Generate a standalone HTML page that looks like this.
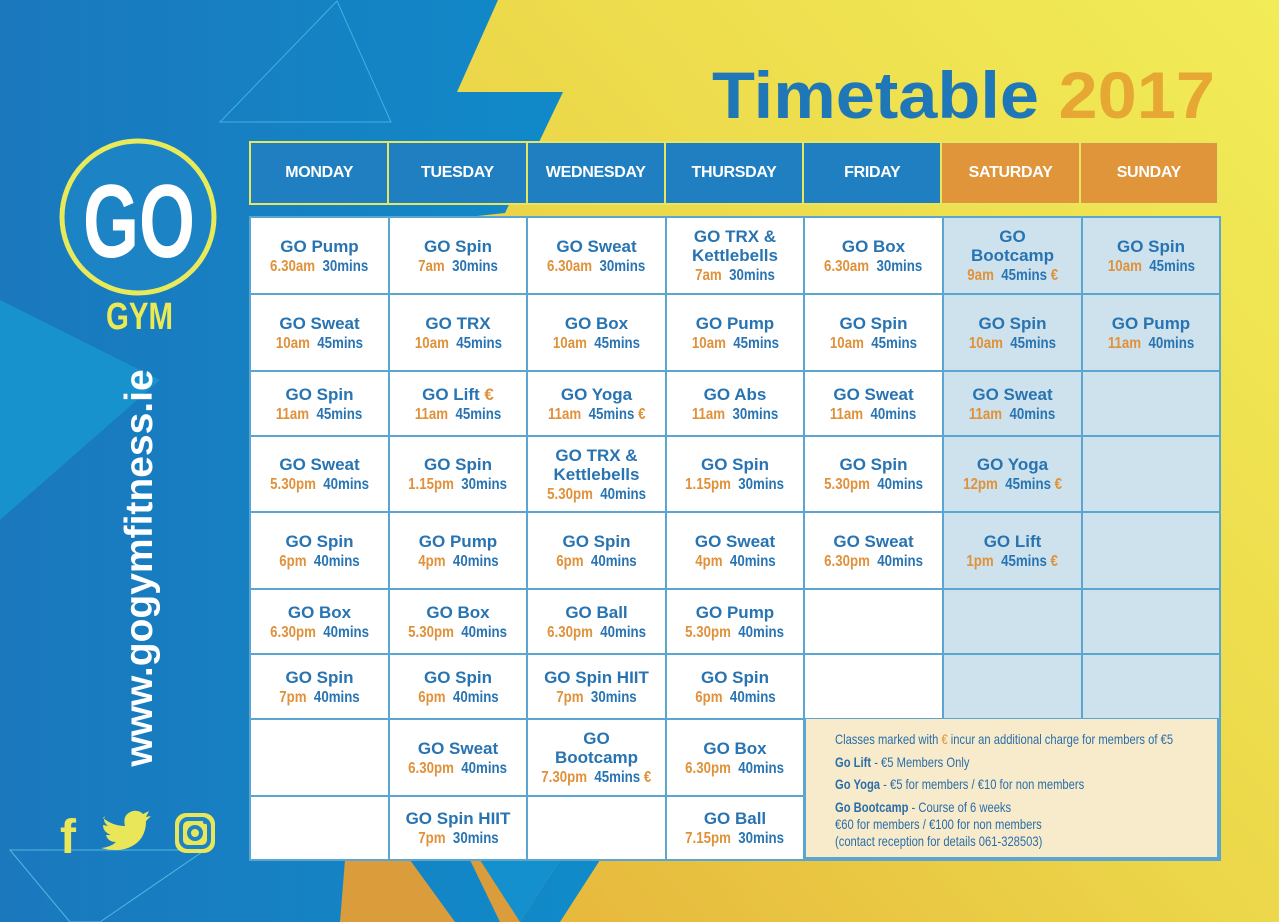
<!DOCTYPE html>
<html><head><meta charset="utf-8"><style>
*{margin:0;padding:0;box-sizing:border-box}
body{width:1279px;height:922px;overflow:hidden;position:relative;font-family:"Liberation Sans",sans-serif;background:#1a86c6}
.abs{position:absolute}
table{position:absolute;border-collapse:collapse;table-layout:fixed}
#hd{left:249px;top:141px;width:970px;height:64px}
#hd td{background:#1f7fc0;color:#fff;font-weight:bold;font-size:16px;text-align:center;border:2px solid #e6e660;letter-spacing:-0.3px}
#hd td.w{background:#e0953a}
#bd{left:249px;top:216px;width:970px}
#bd td{background:#fff;border:2px solid #5aa6d0;text-align:center;vertical-align:middle;color:#2874b2;padding-top:2px}
#bd td.s{background:#cde2ec}
.n{font-weight:bold;font-size:17px;line-height:19px;display:block}
.t{font-weight:bold;font-size:16px;line-height:21px;display:inline-block;transform:scaleX(.83);white-space:nowrap}
.o{color:#e0913a}
#leg{position:absolute;left:804px;top:719px;width:415px;height:140px;background:#f8ebcb;border:2px solid #5aa6d0;border-top:none;overflow:hidden}
#legi{position:absolute;left:29px;top:12px;width:480px;transform:scaleX(.8);transform-origin:0 0;color:#2a6ea8;font-size:14px;line-height:17px;white-space:nowrap}
#legi p{margin-bottom:5.5px}
</style></head><body>
<svg class="abs" style="left:0;top:0" width="1279" height="922">
<defs><linearGradient id="y" x1="0" y1="1" x2="1" y2="0"><stop offset="0" stop-color="#e6b23a"/><stop offset="0.5" stop-color="#ecd84a"/><stop offset="1" stop-color="#f2ec58"/></linearGradient>
<linearGradient id="b" x1="0" y1="0" x2="1" y2="0"><stop offset="0" stop-color="#1b78bd"/><stop offset="1" stop-color="#03a0d8"/></linearGradient></defs>
<rect width="1279" height="922" fill="url(#b)"/>
<polygon points="0,300 160,380 0,520" fill="#1792cc"/>
<polygon points="498,0 1279,0 1279,922 560,922 600,860 420,860 440,220 505,213 563,92 457,92" fill="url(#y)"/>
<polygon points="345,860 410,860 455,922 340,922" fill="#db9c3c"/>
<polygon points="470,860 560,860 520,922 500,922" fill="#db9c3c"/>
<polygon points="480,860 560,860 520,922" fill="#1590cf"/>
<polygon points="337,1 220,122 391,122" fill="none" stroke="#3fb3e0" stroke-width="1"/>
<polygon points="10,850 205,850 100,922 70,922" fill="none" stroke="#52b8e2" stroke-width="1"/>
<circle cx="138" cy="217" r="76" fill="#1c84c4" stroke="#e8ea5a" stroke-width="5"/>
<text x="83" y="257" textLength="112" lengthAdjust="spacingAndGlyphs" fill="#fff" font-weight="bold" font-size="104" font-family="Liberation Sans,sans-serif">GO</text>
<text x="106" y="329" textLength="67" lengthAdjust="spacingAndGlyphs" fill="#eaea55" font-weight="bold" font-size="38" font-family="Liberation Sans,sans-serif">GYM</text>
<text transform="translate(152,568) rotate(-90)" fill="#fff" font-weight="bold" font-size="39" text-anchor="middle" font-family="Liberation Sans,sans-serif">www.gogymfitness.ie</text>
<text x="68" y="853" fill="#eae65a" font-weight="bold" font-size="48" text-anchor="middle" font-family="Liberation Sans,sans-serif">f</text>
<path d="M103 818 q10 8 22 8 q-3 -12 8 -15 q6 -1 10 3 l6 -3 -3 6 5 -1 -5 5 q0 20 -18 27 q-12 4 -27 0 q10 -1 15 -6 q-8 0 -10 -7 l5 0 q-8 -3 -8 -10 l5 1 q-6 -5 -3 -10z" fill="#eae65a"/>
<rect x="175" y="813" width="40" height="40" rx="11" fill="#eae65a"/>
<rect x="181" y="819" width="28" height="28" rx="7" fill="none" stroke="#1c84c4" stroke-width="4"/>
<circle cx="195" cy="833" r="6" fill="none" stroke="#1c84c4" stroke-width="4"/>
<circle cx="205" cy="822" r="2" fill="#1c84c4"/>
<text x="712" y="118" textLength="503" lengthAdjust="spacingAndGlyphs" font-weight="bold" font-size="66" fill="#1f77b8" font-family="Liberation Sans,sans-serif">Timetable <tspan fill="#e6a833">2017</tspan></text>
</svg>
<table id="hd"><tr><td>MONDAY</td><td>TUESDAY</td><td>WEDNESDAY</td><td>THURSDAY</td><td>FRIDAY</td><td class="w">SATURDAY</td><td class="w">SUNDAY</td></tr></table>
<table id="bd">
<colgroup><col style="width:139px"><col style="width:138px"><col style="width:139px"><col style="width:138px"><col style="width:139px"><col style="width:139px"><col style="width:138px"></colgroup>
<tr style="height:77px"><td><span class="n">GO Pump</span><span class="t"><span class="o">6.30am</span>&nbsp; 30mins</span></td><td><span class="n">GO Spin</span><span class="t"><span class="o">7am</span>&nbsp; 30mins</span></td><td><span class="n">GO Sweat</span><span class="t"><span class="o">6.30am</span>&nbsp; 30mins</span></td><td><span class="n">GO TRX &amp;<br>Kettlebells</span><span class="t"><span class="o">7am</span>&nbsp; 30mins</span></td><td><span class="n">GO Box</span><span class="t"><span class="o">6.30am</span>&nbsp; 30mins</span></td><td class="s"><span class="n">GO<br>Bootcamp</span><span class="t"><span class="o">9am</span>&nbsp; 45mins <span class="o">€</span></span></td><td class="s"><span class="n">GO Spin</span><span class="t"><span class="o">10am</span>&nbsp; 45mins</span></td></tr>
<tr style="height:77px"><td><span class="n">GO Sweat</span><span class="t"><span class="o">10am</span>&nbsp; 45mins</span></td><td><span class="n">GO TRX</span><span class="t"><span class="o">10am</span>&nbsp; 45mins</span></td><td><span class="n">GO Box</span><span class="t"><span class="o">10am</span>&nbsp; 45mins</span></td><td><span class="n">GO Pump</span><span class="t"><span class="o">10am</span>&nbsp; 45mins</span></td><td><span class="n">GO Spin</span><span class="t"><span class="o">10am</span>&nbsp; 45mins</span></td><td class="s"><span class="n">GO Spin</span><span class="t"><span class="o">10am</span>&nbsp; 45mins</span></td><td class="s"><span class="n">GO Pump</span><span class="t"><span class="o">11am</span>&nbsp; 40mins</span></td></tr>
<tr style="height:65px"><td><span class="n">GO Spin</span><span class="t"><span class="o">11am</span>&nbsp; 45mins</span></td><td><span class="n">GO Lift <span class="o">€</span></span><span class="t"><span class="o">11am</span>&nbsp; 45mins</span></td><td><span class="n">GO Yoga</span><span class="t"><span class="o">11am</span>&nbsp; 45mins <span class="o">€</span></span></td><td><span class="n">GO Abs</span><span class="t"><span class="o">11am</span>&nbsp; 30mins</span></td><td><span class="n">GO Sweat</span><span class="t"><span class="o">11am</span>&nbsp; 40mins</span></td><td class="s"><span class="n">GO Sweat</span><span class="t"><span class="o">11am</span>&nbsp; 40mins</span></td><td class="s"></td></tr>
<tr style="height:76px"><td><span class="n">GO Sweat</span><span class="t"><span class="o">5.30pm</span>&nbsp; 40mins</span></td><td><span class="n">GO Spin</span><span class="t"><span class="o">1.15pm</span>&nbsp; 30mins</span></td><td><span class="n">GO TRX &amp;<br>Kettlebells</span><span class="t"><span class="o">5.30pm</span>&nbsp; 40mins</span></td><td><span class="n">GO Spin</span><span class="t"><span class="o">1.15pm</span>&nbsp; 30mins</span></td><td><span class="n">GO Spin</span><span class="t"><span class="o">5.30pm</span>&nbsp; 40mins</span></td><td class="s"><span class="n">GO Yoga</span><span class="t"><span class="o">12pm</span>&nbsp; 45mins <span class="o">€</span></span></td><td class="s"></td></tr>
<tr style="height:77px"><td><span class="n">GO Spin</span><span class="t"><span class="o">6pm</span>&nbsp; 40mins</span></td><td><span class="n">GO Pump</span><span class="t"><span class="o">4pm</span>&nbsp; 40mins</span></td><td><span class="n">GO Spin</span><span class="t"><span class="o">6pm</span>&nbsp; 40mins</span></td><td><span class="n">GO Sweat</span><span class="t"><span class="o">4pm</span>&nbsp; 40mins</span></td><td><span class="n">GO Sweat</span><span class="t"><span class="o">6.30pm</span>&nbsp; 40mins</span></td><td class="s"><span class="n">GO Lift</span><span class="t"><span class="o">1pm</span>&nbsp; 45mins <span class="o">€</span></span></td><td class="s"></td></tr>
<tr style="height:65px"><td><span class="n">GO Box</span><span class="t"><span class="o">6.30pm</span>&nbsp; 40mins</span></td><td><span class="n">GO Box</span><span class="t"><span class="o">5.30pm</span>&nbsp; 40mins</span></td><td><span class="n">GO Ball</span><span class="t"><span class="o">6.30pm</span>&nbsp; 40mins</span></td><td><span class="n">GO Pump</span><span class="t"><span class="o">5.30pm</span>&nbsp; 40mins</span></td><td></td><td class="s"></td><td class="s"></td></tr>
<tr style="height:65px"><td><span class="n">GO Spin</span><span class="t"><span class="o">7pm</span>&nbsp; 40mins</span></td><td><span class="n">GO Spin</span><span class="t"><span class="o">6pm</span>&nbsp; 40mins</span></td><td><span class="n">GO Spin HIIT</span><span class="t"><span class="o">7pm</span>&nbsp; 30mins</span></td><td><span class="n">GO Spin</span><span class="t"><span class="o">6pm</span>&nbsp; 40mins</span></td><td></td><td class="s"></td><td class="s"></td></tr>
<tr style="height:77px"><td></td><td><span class="n">GO Sweat</span><span class="t"><span class="o">6.30pm</span>&nbsp; 40mins</span></td><td><span class="n">GO<br>Bootcamp</span><span class="t"><span class="o">7.30pm</span>&nbsp; 45mins <span class="o">€</span></span></td><td><span class="n">GO Box</span><span class="t"><span class="o">6.30pm</span>&nbsp; 40mins</span></td><td colspan="3" rowspan="2" style="background:#f8ebcb"></td></tr>
<tr style="height:64px"><td></td><td><span class="n">GO Spin HIIT</span><span class="t"><span class="o">7pm</span>&nbsp; 30mins</span></td><td></td><td><span class="n">GO Ball</span><span class="t"><span class="o">7.15pm</span>&nbsp; 30mins</span></td></tr>
</table>
<div id="leg"><div id="legi">
<p>Classes marked with <span class="o">€</span> incur an additional charge for members of €5</p>
<p><b>Go Lift</b> - €5 Members Only</p>
<p><b>Go Yoga</b> - €5 for members / €10 for non members</p>
<p><b>Go Bootcamp</b> - Course of 6 weeks<br>€60 for members / €100 for non members<br>(contact reception for details 061-328503)</p>
</div></div>
</body></html>
